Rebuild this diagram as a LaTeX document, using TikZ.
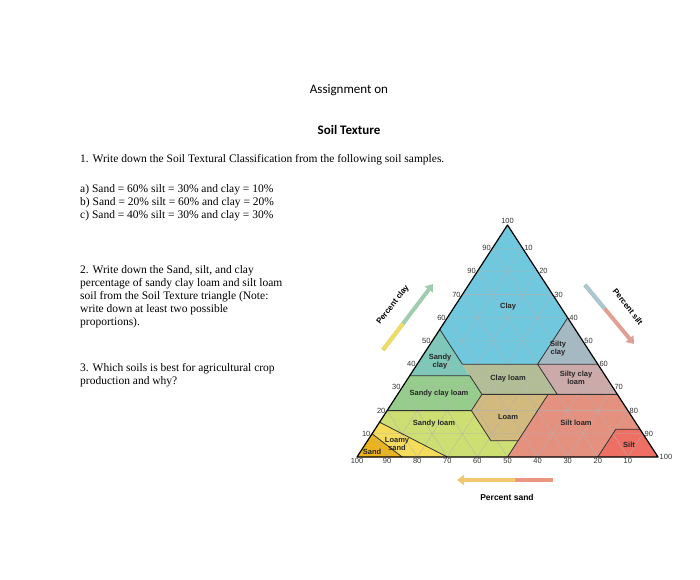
\documentclass[tikz,border=0pt]{standalone}
\usepackage{fontspec}
\setmainfont{Liberation Serif}
\newfontfamily\calfnt{Carlito}
\newfontfamily\labfnt{Liberation Sans}
\usetikzlibrary{arrows.meta,calc}
\begin{document}
\begin{tikzpicture}[x=1pt,y=1pt,
  body/.style={anchor=west,inner sep=0pt,font=\fontsize{11.5}{13}\selectfont,align=left},
  reg/.style={font=\labfnt\bfseries\fontsize{7.5}{8}\selectfont,align=center,inner sep=0pt,text=black!85},
  tick/.style={font=\labfnt\fontsize{7.5}{8}\selectfont,inner sep=1.5pt,text=black!80},
  bound/.style={draw=black!80,line width=0.8pt,line join=round},
  fatarrow/.style={line width=4pt,-{Triangle[length=7pt,width=10pt]}}]
\useasboundingbox (0,0) rectangle (700,579);
\node[inner sep=0pt,font=\calfnt\fontsize{13}{15}\selectfont] (t1) at (349,489) {Assignment on};
\node[inner sep=0pt,font=\calfnt\bfseries\fontsize{13}{15}\selectfont] (t2) at (349,449) {Soil Texture};
\node[body] (q1) at (80,419) {1. Write down the Soil Textural Classification from the following soil samples.};
\node[body,anchor=north west] (q1a) at (80,395) {a) Sand = 60\% silt = 30\% and clay = 10\%\\b) Sand = 20\% silt = 60\% and clay = 20\%\\c) Sand = 40\% silt = 30\% and clay = 30\%};
\node[body,anchor=north west] (q2) at (80,314) {2. Write down the Sand, silt, and clay\\percentage of sandy clay loam and silt loam\\soil from the Soil Texture triangle (Note:\\write down at least two possible\\proportions).};
\node[body,anchor=north west] (q3) at (80,216) {3. Which soils is best for agricultural crop\\production and why?};
\begin{scope}[shift={(658pt,122pt)},x={(-3.01pt,0pt)},y={(-1.505pt,2.32pt)}]
 \fill[fill={rgb,255:red,112;green,200;blue,222}] (45,40)--(45,55)--(0,100)--(0,60)--(20,40)--cycle;
 \fill[fill={rgb,255:red,125;green,200;blue,185}] (65,35)--(45,35)--(45,55)--cycle;
 \fill[fill={rgb,255:red,165;green,185;blue,195}] (20,40)--(0,60)--(0,40)--cycle;
 \fill[fill={rgb,255:red,150;green,205;blue,140}] (80,20)--(65,35)--(45,35)--(45,27)--(52,20)--cycle;
 \fill[fill={rgb,255:red,180;green,190;blue,150}] (45,27)--(45,40)--(20,40)--(20,27)--cycle;
 \fill[fill={rgb,255:red,205;green,170;blue,170}] (20,27)--(20,40)--(0,40)--(0,27)--cycle;
 \fill[fill={rgb,255:red,210;green,185;blue,125}] (23,27)--(45,27)--(52,20)--(52,7)--(43,7)--cycle;
 \fill[fill={rgb,255:red,205;green,222;blue,115}] (70,0)--(50,0)--(43,7)--(52,7)--(52,20)--(80,20)--(85,15)--cycle;
 \fill[fill={rgb,255:red,228;green,145;blue,128}] (50,0)--(20,0)--(8,12)--(0,12)--(0,27)--(23,27)--(43,7)--cycle;
 \fill[fill={rgb,255:red,238;green,112;blue,100}] (20,0)--(0,0)--(0,12)--(8,12)--cycle;
 \fill[fill={rgb,255:red,245;green,220;blue,90}] (85,0)--(70,0)--(85,15)--(90,10)--cycle;
 \fill[fill={rgb,255:red,235;green,180;blue,30}] (100,0)--(85,0)--(90,10)--cycle;
 \foreach \i in {10,20,...,90}{
   \draw[black!30,line width=0.3pt] (100-\i,\i)--(0,\i) (\i,0)--(\i,100-\i) (100-\i,0)--(0,100-\i);}
 \draw[bound] (45,40)--(45,55) (20,40)--(0,60) (65,35)--(45,35) (45,40)--(0,40) (20,40)--(20,27)
   (80,20)--(52,20)--(45,27)--(45,35) (52,20)--(52,7)--(43,7)--(23,27) (45,27)--(0,27)
   (50,0)--(43,7) (0,12)--(8,12)--(20,0) (70,0)--(85,15) (85,0)--(90,10);
 \draw[black,line width=1.2pt,line join=round] (100,0)--(0,0)--(0,100)--cycle;
 \foreach \c/\t in {10/10,20/20,30/30,40/40,50/50,60/60,70/70,80/90,90/90}{
   \node[tick,anchor=east] (l\c) at (100-\c,\c) {\t};}
 \foreach \c in {10,20,...,90}{
   \pgfmathtruncatemacro\t{100-\c}
   \node[tick,anchor=west] (r\c) at (0,\c) {\t};}
 \foreach \s in {10,20,...,100}{
   \node[tick,anchor=north] (b\s) at (\s,0) {\s};}
 \node[tick,anchor=west] (br) at (0,0) {100};
 \node[tick,anchor=south] (tp) at (0,100) {100};
\end{scope}
\node[reg] (nclay) at (508,272) {Clay};
\node[reg] (nsc) at (440,217) {Sandy\\clay};
\node[reg] (nsic) at (558,230) {Silty\\clay};
\node[reg] (ncl) at (508,200) {Clay loam};
\node[reg] (nsicl) at (576,201) {Silty clay\\loam};
\node[reg] (nscl) at (439,185) {Sandy clay loam};
\node[reg] (nloam) at (508,162) {Loam};
\node[reg] (nsl) at (434,155) {Sandy loam};
\node[reg] (nsil) at (576,156) {Silt loam};
\node[reg] (nsilt) at (629,134) {Silt};
\node[reg] (nls) at (397,135) {Loamy\\sand};
\node[reg] (nsand) at (372,127) {Sand};
\coordinate (ca1) at (383,229); \coordinate (ca2) at (433,295);
\draw[fatarrow,draw={rgb,255:red,160;green,205;blue,175},fill={rgb,255:red,160;green,205;blue,175}] (ca1)--(ca2);
\draw[line width=4pt,draw={rgb,255:red,240;green,220;blue,100}] (ca1)--($(ca1)!0.4!(ca2)$);
\coordinate (sa1) at (585,294); \coordinate (sa2) at (634,235);
\draw[fatarrow,draw={rgb,255:red,225;green,160;blue,150},fill={rgb,255:red,225;green,160;blue,150}] (sa1)--(sa2);
\draw[line width=4pt,draw={rgb,255:red,170;green,200;blue,210}] (sa1)--($(sa1)!0.4!(sa2)$);
\coordinate (da1) at (553,99); \coordinate (da2) at (457,99);
\draw[fatarrow,draw={rgb,255:red,240;green,200;blue,110},fill={rgb,255:red,240;green,200;blue,110}] (da1)--(da2);
\draw[line width=4pt,draw={rgb,255:red,235;green,150;blue,130}] (da1)--($(da1)!0.4!(da2)$);
\node[font=\labfnt\bfseries\fontsize{8}{9}\selectfont,rotate=52] (pc) at (393,274) {Percent clay};
\node[font=\labfnt\bfseries\fontsize{8}{9}\selectfont,rotate=-52] (ps) at (628,272) {Percent silt};
\node[font=\labfnt\bfseries\fontsize{8.5}{9}\selectfont] (pd) at (507,82) {Percent sand};
\end{tikzpicture}
\end{document}
